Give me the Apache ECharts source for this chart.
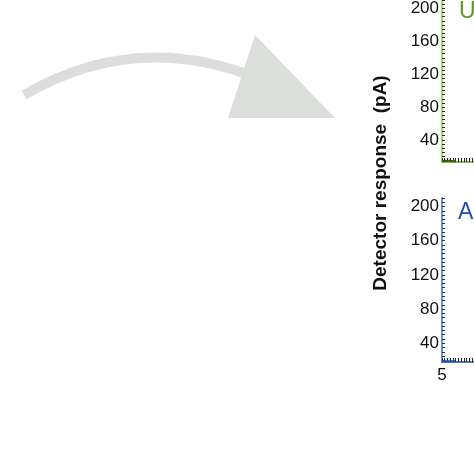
<!DOCTYPE html>
<html>
<head>
<meta charset="utf-8">
<style>
  html, body { margin: 0; padding: 0; background: #fff; overflow: hidden; }
</style>
</head>
<body>
<div id="chart" style="width:474px;height:474px;"></div>
<script src="https://cdn.jsdelivr.net/npm/echarts@6/dist/echarts.min.js"></script>
<script>
// readings (time in min, response in pA)
var timeTop = [5, 5.5, 6, 6.5, 7, 7.5, 8, 9, 10];
var respTop = [14, 14, 14.5, 14, 14.5, 15, 14.5, 14, 14];
var timeBottom = [5, 5.5, 6, 6.5, 7, 7.5, 8, 9, 10];
var respBottom = [19, 19.5, 19, 19.5, 19, 19.5, 19, 19, 19];
var yTickLabels = [40, 80, 120, 160, 200];
var panelLetters = ['U', 'A'];

var minorTicks = [];
for (var v = 15; v <= 210; v += 5) minorTicks.push(v);

var chart = echarts.init(document.getElementById('chart'));

function yAx(idx, min, color) {
  return {
    type: 'value', gridIndex: idx, min: min, max: 210,
    axisLine: { show: true, lineStyle: { color: color, width: 1.5 } },
    axisTick: { show: true, length: 3, inside: true, customValues: minorTicks, lineStyle: { color: '#333' } },
    axisLabel: { customValues: yTickLabels, color: '#111', fontSize: 17, margin: 3, fontFamily: 'Liberation Sans' },
    splitLine: { show: false }
  };
}
function xAx(idx, color, showLabel) {
  return {
    type: 'value', gridIndex: idx, min: 5, max: 30, interval: 1,
    axisLine: { show: true, onZero: false, lineStyle: { color: color, width: 1.5 } },
    axisTick: { show: true, length: 4, inside: true, lineStyle: { color: '#222' } },
    axisLabel: { show: showLabel, color: '#111', fontSize: 17, margin: 5, fontFamily: 'Liberation Sans',
      formatter: function (v) { return v === 5 ? '5' : ''; } },
    splitLine: { show: false }
  };
}

chart.setOption({
  animation: false,
  grid: [
    { left: 442, right: -240, top: 0, height: 162 },
    { left: 442, right: -240, top: 198, height: 164 }
  ],
  xAxis: [xAx(0, '#6aa01e', false), xAx(1, '#1f4fb0', true)],
  yAxis: [yAx(0, 13, '#8cc63f'), yAx(1, 18, '#3a6fd0')],
  series: [
    { type: 'line', xAxisIndex: 0, yAxisIndex: 0, symbol: 'none',
      lineStyle: { color: '#2f5a0a', width: 2 },
      data: timeTop.map(function (t, i) { return [t, respTop[i]]; }) },
    { type: 'line', xAxisIndex: 1, yAxisIndex: 1, symbol: 'none',
      lineStyle: { color: '#1f4fb0', width: 2 },
      data: timeBottom.map(function (t, i) { return [t, respBottom[i]]; }) }
  ],
  graphic: [
    { type: 'bezierCurve', silent: true,
      shape: { x1: 24, y1: 95, cpx1: 110, cpy1: 45, cpx2: 190, cpy2: 50, x2: 262, y2: 80 },
      style: { stroke: '#dcdedb', lineWidth: 10, fill: null } },
    { type: 'polygon', silent: true,
      shape: { points: [[255, 35], [335, 118], [228, 118]] },
      style: { fill: '#dcdedb' } },
    { type: 'text', x: 381, y: 183, rotation: Math.PI / 2,
      style: { text: 'Detector response  (pA)', fill: '#111', font: 'bold 19px "Liberation Sans"',
        align: 'center', verticalAlign: 'middle' } },
    { type: 'text', x: 459, y: 0,
      style: { text: panelLetters[0], fill: '#5b9a1c', font: '23px "Liberation Sans"' } },
    { type: 'text', x: 458, y: 201,
      style: { text: panelLetters[1], fill: '#1f4fb0', font: '23px "Liberation Sans"' } }
  ]
});
</script>
</body>
</html>
